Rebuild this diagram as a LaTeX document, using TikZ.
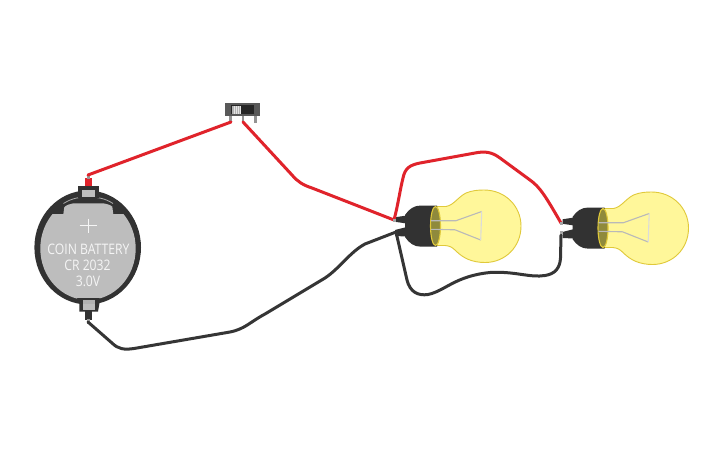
\documentclass[tikz,border=0pt]{standalone}
\usepackage{fontspec}
\setmainfont{Open Sans}
\definecolor{wred}{HTML}{E0232B}
\definecolor{wblack}{HTML}{353535}
\definecolor{sock}{HTML}{323232}
\definecolor{glass}{HTML}{FFF79A}
\definecolor{glassline}{HTML}{E0C93A}
\definecolor{hole}{HTML}{8F8A3C}
\definecolor{cell}{HTML}{BDBDBD}
\tikzset{
  wire/.style={line width=3pt,line cap=round,line join=round},
  redwire/.style={wire,draw=wred},
  blackwire/.style={wire,draw=wblack},
  label/.style={text=white!85!cell,font=\fontsize{14.5pt}{16pt}\selectfont,inner sep=0pt,xscale=0.84},
  pin/.style={fill=gray!85,draw=none},
}
\newcommand{\lamp}[3]{%
\begin{scope}[shift={(#1,#2)},scale=#3]
  \fill[sock] (395,217.3) -- (406.7,215.5) -- (406.7,223.5) -- (395,221.8) -- cycle;
  \fill[sock] (395,230) -- (406.7,227) -- (406.7,236.5) -- (395,236) -- cycle;
  \filldraw[fill=glass,draw=glassline,line width=0.9pt]
    (435,206.5) -- (446,206.5) .. controls (454,205) and (458,197) .. (466,193)
    .. controls (472,190.5) and (478,190) .. (484,190)
    .. controls (505,190) and (521,206) .. (521,226)
    .. controls (521,247) and (505,262.5) .. (485,262.5)
    .. controls (472,262.5) and (463,258) .. (456,251)
    .. controls (452,247) and (450,246) .. (445,245.5) -- (435,245.5) -- cycle;
  \fill[sock] (405,215) .. controls (409,209) and (414,205.5) .. (421,205.5)
    -- (437,205.5) -- (437,246.7)
    -- (421,246.7) .. controls (414,246.7) and (409,243) .. (405,237) -- cycle;
  \filldraw[fill=hole,draw=glassline,line width=1.1pt] (435.5,226) ellipse (5 and 19.5);
  \draw[draw=gray!55,line width=1.1pt,line join=round]
    (431,220.7) -- (456,220.7) -- (481.7,211.5);
  \draw[draw=gray!55,line width=1.1pt,line join=round]
    (431,229.3) -- (455,229.8) -- (480.7,240);
  \draw[draw=gray!28,line width=1.1pt] (481.7,211.5) -- (480.7,240);
\end{scope}}
\begin{document}
\begin{tikzpicture}[x=1pt,y=-1pt]
\useasboundingbox (0,0) rectangle (725,453);
\fill[white] (0,0) rectangle (725,453);
% battery
\fill[wred] (85,178) rectangle (91.7,187);
\fill[gray!80] (86.8,174) rectangle (89.5,179);
\fill[sock] (85,309) rectangle (91.7,320);
\fill[gray!80] (86.8,319) rectangle (89.5,324);
\fill[sock] (87.7,247.5) ellipse (53.3 and 57);
\begin{scope}
  \clip (0,214) rectangle (200,400);
  \fill[cell] (88,248.5) ellipse (47.7 and 51.5);
\end{scope}
\fill[cell] (54,215) -- (63.3,214.3) -- (64.3,207.3) .. controls (66,205) and (70,204) .. (73.3,203.3)
  -- (103.3,203.3) .. controls (107,204) and (111,205) .. (112.3,206.7) -- (113.3,214.3) -- (123,215) -- cycle;
\draw[cell!85!sock,line width=0.8pt] (63.5,203.5) .. controls (72,198) and (80,197) .. (88,197)
  .. controls (96,197) and (105,198) .. (113,203.5);
\fill[sock] (78.3,186) -- (99,186) -- (99,197.5) -- (78.3,197.5) -- cycle;
\fill[cell] (81.8,189.5) rectangle (95,196.5);
\fill[sock] (77,298) -- (99.5,298) -- (99.5,303) -- (98,311.5) -- (79.3,311.5) -- (79.3,303) -- cycle;
\fill[gray!60] (82.5,299.5) rectangle (95,304);
\fill[cell] (82.5,304) rectangle (95,310);
\draw[white!85!cell,line width=0.5pt] (88,218.5) -- (88,233) (79.5,225.5) -- (96.5,225.5);
\node[label] (title) at (88.5,249.5) {COIN BATTERY};
\node[label] (model) at (87.5,265.5) {CR 2032};
\node[label] (volt) at (88,281) {3.0V};
% switch
\fill[pin] (229,115) rectangle (231.5,123);
\fill[pin] (241.5,115) rectangle (244,123);
\fill[pin] (254,115) rectangle (256.5,123);
\fill[gray!70!black] (225,103.3) rectangle (260,116);
\fill[black!85] (231,105) rectangle (254.3,114);
\fill[gray!60] (232,106) rectangle (241,113.5);
\foreach \i in {233.5,235.5,237.5,239.5} \fill[white!80!gray] (\i,106) rectangle +(0.9,7.5);
% lamps
\lamp{0}{0}{1}
\lamp{167.5}{2}{1}
% terminals
\coordinate (batplus) at (88,175);
\coordinate (batminus) at (88,322);
\coordinate (swa) at (231,122);
\coordinate (swb) at (243,122);
\coordinate (lampAred) at (394,220);
\coordinate (lampAblk) at (396,232);
\coordinate (lampBred) at (561,223);
\coordinate (lampBblk) at (561,235);
\draw[redwire] (batplus) -- (swa);
\draw[redwire] (swb) -- (292,175) .. controls (298,182) and (303,185) .. (312,188) -- (lampAred);
\draw[redwire] (lampAred) .. controls (398,205) and (400,190) .. (403,178)
  .. controls (405,168) and (410,165) .. (420,163) -- (475,153)
  .. controls (485,151) and (492,152) .. (500,158) -- (530,180)
  .. controls (540,187) and (546,197) .. (lampBred);
\draw[blackwire] (batminus) -- (112,343) .. controls (118,349) and (124,350) .. (134,348.5)
  -- (230,332) .. controls (245,329) and (250,322) .. (265,314)
  -- (325,278) .. controls (340,268) and (350,252) .. (365,244) -- (lampAblk);
\draw[blackwire] (lampAblk) -- (407,280) .. controls (410,292) and (418,296) .. (428,294.5)
  .. controls (445,291) and (455,276) .. (490,272.5)
  .. controls (515,271) and (530,278) .. (545,275.5)
  .. controls (555,274) and (560,268) .. (560.5,258) -- (lampBblk);
\fill[gray!70] (392.5,218.5) rectangle (396,221.5);
\fill[gray!70] (559.5,221.5) rectangle (563,224.5);
\fill[gray!70] (559.5,231) rectangle (563,234);
\end{tikzpicture}
\end{document}
